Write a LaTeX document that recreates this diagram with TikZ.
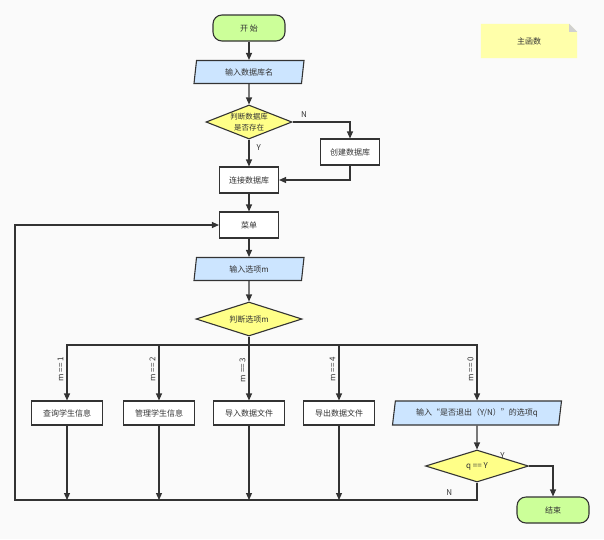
\documentclass[tikz,border=0pt]{standalone}
\usepackage{fontspec}
\setmainfont{Noto Sans CJK SC}
\usetikzlibrary{shapes.geometric,arrows.meta,positioning}

\definecolor{bgcol}{HTML}{FAFAFA}
\definecolor{linecol}{HTML}{333333}
\definecolor{txtcol}{HTML}{333333}
\definecolor{termcol}{HTML}{CCFF99}
\definecolor{iocol}{HTML}{CCE5FF}
\definecolor{askcol}{HTML}{FFFF88}
\definecolor{notecol}{HTML}{FFFFAA}
\definecolor{foldcol}{HTML}{D0D0D0}

\tikzset{
  base/.style={draw=linecol, line width=1.1pt, text=txtcol, font=\fontsize{8}{10}\selectfont, inner sep=1pt},
  terminal/.style={base, fill=termcol, rounded corners=9pt, minimum width=72, minimum height=26},
  procbox/.style={base, fill=white, minimum width=59, minimum height=26},
  optbox/.style={base, fill=white, minimum width=71, minimum height=24},
  inbox/.style={base, fill=iocol, trapezium, trapezium left angle=75, trapezium right angle=105,
    trapezium stretches body, minimum width=110, minimum height=23},
  askbox/.style={base, fill=askcol, diamond, inner sep=0pt, minimum width=106, minimum height=34},
  lbl/.style={text=txtcol, font=\fontsize{8}{10}\selectfont, inner sep=2pt},
  arr/.style={draw=linecol, line width=1.1pt, -{Triangle[length=7pt,width=6pt]}},
  ln/.style={draw=linecol, line width=1.1pt}
}

\begin{document}
\begin{tikzpicture}[x=1pt,y=-1pt]

	\fill[bgcol] (0,0) rectangle (604,539);
	\useasboundingbox (0,0) rectangle (604,539);

	% top part
	\node[terminal] (start) at (249,28) {开\ 始};
	\node[inbox] (dbname) at (249,72) {输入数据库名};
	\node[askbox, minimum width=86] (exist) at (249,122) {};
	\node[lbl, align=center, font=\fontsize{7.5}{11}\selectfont] at (exist) {判断数据库\\是否存在};
	\node[procbox] (create) at (350,152) {创建数据库};
	\node[procbox] (connect) at (249,180) {连接数据库};
	\node[procbox] (menu) at (249,225) {菜单};
	\node[inbox] (inm) at (249,269) {输入选项m};
	\node[askbox] (judge) at (249,319) {};
	\node[lbl] at (judge) {判断选项m};

	% options
	\node[optbox] (query) at (67,413) {查询学生信息};
	\node[optbox] (manage) at (159,413) {管理学生信息};
	\node[optbox] (import) at (249,413) {导入数据文件};
	\node[optbox] (export) at (339,413) {导出数据文件};
	\node[inbox, minimum width=169, minimum height=24] (inq) at (477,413) {输入“是否退出（Y/N）”的选项q};
	\node[askbox, minimum width=103, minimum height=32] (quit) at (477,466) {};
	\node[lbl] at (quit) {q == Y};
	\node[terminal] (end) at (553,510) {结束};

	% note
	\node[lbl, minimum width=96, minimum height=34] (main) at (529,41) {};
	\fill[notecol] (main.north west) -- ([xshift=-8]main.north east) -- ([yshift=-8]main.north east) -- (main.south east) -- (main.south west) -- cycle;
	\fill[foldcol] ([xshift=-8]main.north east) -- ([yshift=-8]main.north east) -- ([xshift=-8,yshift=-8]main.north east) -- cycle;
	\node[lbl] at (main) {主函数};

	\coordinate (split) at (249,345);
	\coordinate (loopL) at (15,500);

	\draw[arr] (start) -- (dbname);
	\draw[arr] (dbname) -- (exist);
	\draw[arr] (exist) -- node[lbl, pos=0.3, right=5pt]{Y} (connect);
	\draw[arr] (exist.east) -| node[lbl, pos=0.1, above=2pt]{N} (create.north);
	\draw[arr] (create.south) |- (connect.east);
	\draw[arr] (connect) -- (menu);
	\draw[arr] (menu) -- (inm);
	\draw[arr] (inm) -- (judge);

	\draw[ln] (judge.south) -- (split);
	\draw[arr] (split) -| node[lbl, pos=0.72, rotate=90, anchor=south, inner sep=3pt]{m == 1} (query.north);
	\draw[arr] (split) -| node[lbl, pos=0.72, rotate=90, anchor=south, inner sep=3pt]{m == 2} (manage.north);
	\draw[arr] (split) -- node[lbl, pos=0.45, rotate=90, anchor=south, inner sep=3pt]{m == 3} (import.north);
	\draw[arr] (split) -| node[lbl, pos=0.72, rotate=90, anchor=south, inner sep=3pt]{m == 4} (export.north);
	\draw[arr] (split) -| node[lbl, pos=0.72, rotate=90, anchor=south, inner sep=3pt]{m == 0} (inq.north);

	\draw[arr] (query.south) -- (query.south |- loopL);
	\draw[arr] (manage.south) -- (manage.south |- loopL);
	\draw[arr] (import.south) -- (import.south |- loopL);
	\draw[arr] (export.south) -- (export.south |- loopL);
	\draw[arr] (inq.south) -- (quit.north);

	\draw[arr] (quit.south) -- (quit.south |- loopL) -- node[lbl, pos=0.06, above=2pt]{N} (loopL) |- (menu.west);
	\draw[arr] (quit.east) -| node[lbl, pos=0, above left=5pt and 22pt]{Y} (end.north);

\end{tikzpicture}
\end{document}
